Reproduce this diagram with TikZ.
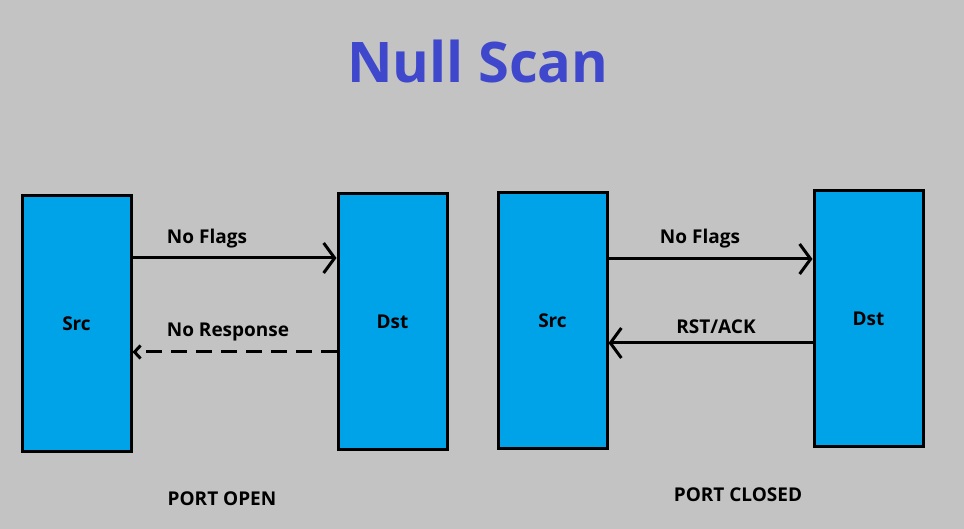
\documentclass[tikz,border=0pt]{standalone}
\usepackage{fontspec}
\setmainfont{Open Sans}
\usetikzlibrary{arrows.meta}
\definecolor{bg}{HTML}{C3C3C3}
\definecolor{boxc}{HTML}{00A2E8}
\definecolor{titlec}{HTML}{3F48CC}
\begin{document}
\begin{tikzpicture}[x=1pt,y=-1pt,
  box/.style={draw=black,line width=3pt,fill=boxc,minimum width=109pt,minimum height=255pt,inner sep=0pt,font=\fontsize{19}{22}\selectfont\bfseries},
  lbl/.style={font=\fontsize{19}{22}\selectfont\bfseries},
  big/.style={-{Straight Barb[length=11pt,width=30pt,line width=3pt]},line width=3pt},
  small/.style={-{Straight Barb[length=6pt,width=13pt,line width=3pt]},line width=3pt}]
\fill[bg] (0,0) rectangle (964,529);
\useasboundingbox (0,0) rectangle (964,529);
\node[font=\fontsize{56}{60}\selectfont\bfseries,text=titlec] (title) at (478,62) {Null Scan};
\node[box] (s1) at (76.5,323.5) {Src};
\node[box] (d1) at (392.5,321.5) {Dst};
\node[box] (s2) at (552.5,320.5) {Src};
\node[box] (d2) at (868.5,318.5) {Dst};
\draw[big] (s1.east |- 0,258) -- (d1.west |- 0,258);
\draw[small,dash pattern=on 16pt off 9pt] (d1.west |- 0,352) -- (s1.east |- 0,352);
\draw[big] (s2.east |- 0,259) -- (d2.west |- 0,259);
\draw[big] (d2.west |- 0,343) -- (s2.east |- 0,343);
\node[lbl] (l1) at (207,239) {No Flags};
\node[lbl] (l2) at (228,332) {No Response};
\node[lbl] (l3) at (700,239) {No Flags};
\node[lbl] (l4) at (716,327) {RST/ACK};
\node[lbl] (p1) at (222,499) {PORT OPEN};
\node[lbl] (p2) at (738,495) {PORT CLOSED};
\end{tikzpicture}
\end{document}
